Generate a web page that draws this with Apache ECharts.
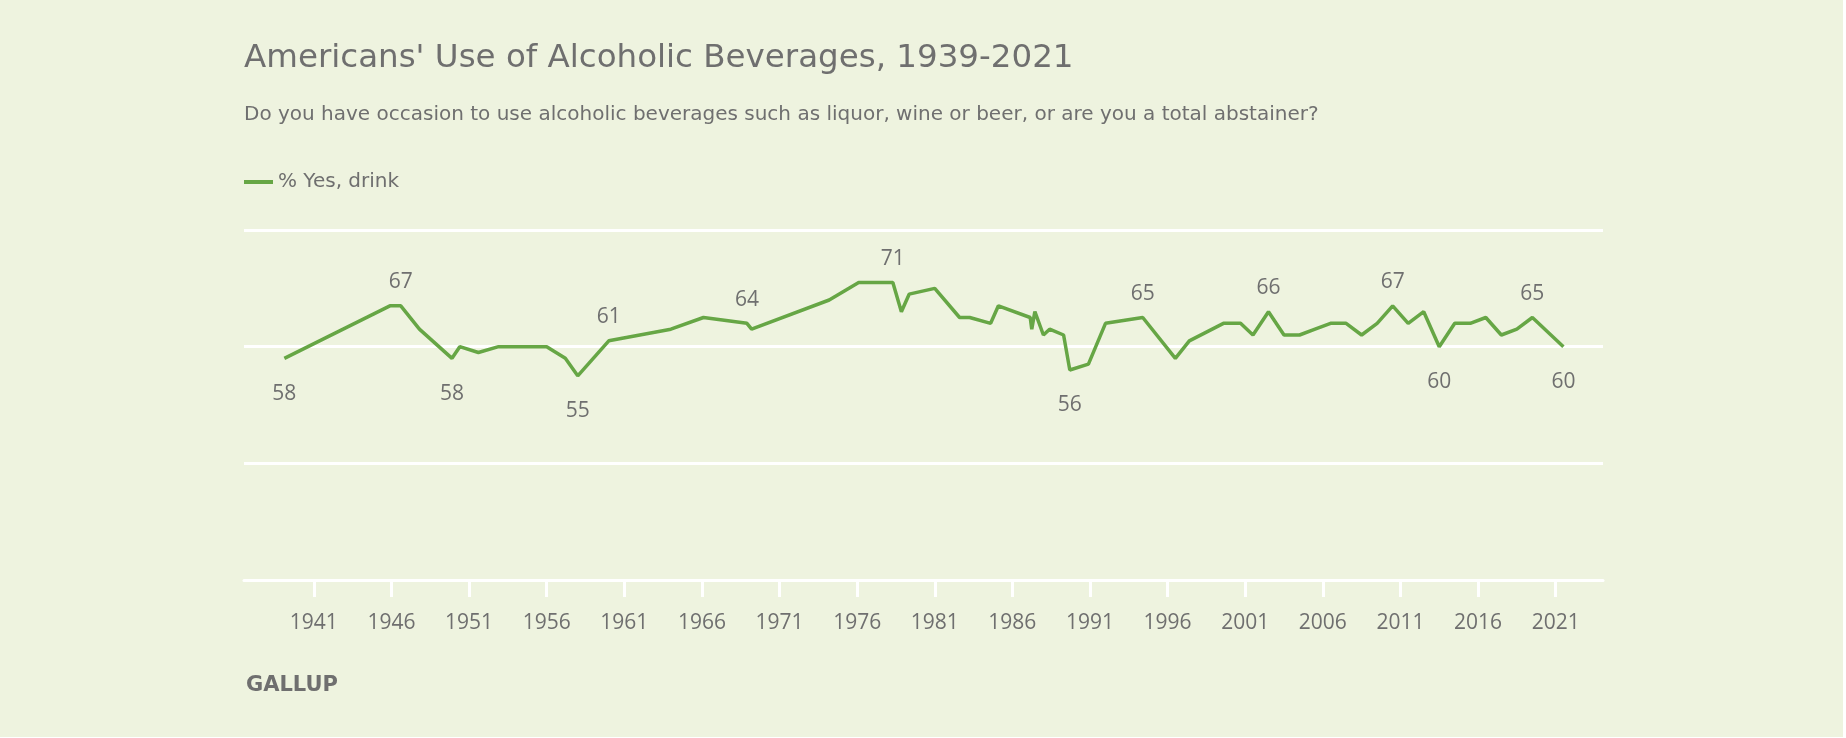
<!DOCTYPE html>
<html>
<head>
<meta charset="utf-8">
<script src="https://cdn.jsdelivr.net/npm/echarts@6/dist/echarts.min.js"></script>
<style>
  html, body { margin: 0; padding: 0; background: #ffffff; }
  #chart { width: 1843px; height: 737px; }
</style>
</head>
<body>
<div id="chart"></div>
<script>
// survey dates (fractional year) and % who drink
const years = [1939.1, 1945.9, 1946.6, 1947.8, 1949.9, 1950.4, 1951.6, 1952.9, 1956.0, 1957.2,
  1958.0, 1960.0, 1964.0, 1966.1, 1968.9, 1969.2, 1974.2, 1976.1, 1978.3, 1978.85,
  1979.35, 1981.0, 1982.6, 1983.25, 1984.6, 1985.1, 1987.15, 1987.25, 1987.45, 1988.0,
  1988.4, 1989.3, 1989.7, 1990.9, 1992.0, 1994.4, 1996.5, 1997.4, 1999.6, 2000.7,
  2001.5, 2002.5, 2003.5, 2004.5, 2005.5, 2006.5, 2007.5, 2008.5, 2009.5, 2010.5,
  2011.5, 2012.5, 2013.5, 2014.5, 2015.5, 2016.5, 2017.5, 2018.5, 2019.5, 2021.5]
const yesDrink = [58, 67, 67, 63, 58, 60, 59, 60, 60, 58,
  55, 61, 63, 65, 64, 63, 68, 71, 71, 66,
  69, 70, 65, 65, 64, 67, 65, 63, 66, 62,
  63, 62, 56, 57, 64, 65, 58, 61, 64, 64,
  62, 66, 62, 62, 63, 64, 64, 62, 64, 67,
  64, 66, 60, 64, 64, 65, 62, 63, 65, 60]
// which points get a value label
const labelsAbove = [1946.6, 1960.0, 1968.9, 1978.3, 1994.4, 2002.5, 2010.5, 2019.5]
const labelsBelow = [1939.1, 1949.9, 1958.0, 1989.7, 2013.5, 2021.5]
const tickYears = [1941, 1946, 1951, 1956, 1961, 1966, 1971, 1976, 1981, 1986,
  1991, 1996, 2001, 2006, 2011, 2016, 2021]

const TEXT_FONT = '"DejaVu Sans", sans-serif'
const NUM_FONT = '"Open Sans", sans-serif'
const GREY = '#6f6f6f'
const GREEN = '#66a645'

const seriesData = years.map((x, i) => {
  let item = { value: [x, yesDrink[i]] }
  if (labelsAbove.includes(x)) {
    item.label = { show: true, position: 'top', distance: 13 }
  } else if (labelsBelow.includes(x)) {
    item.label = { show: true, position: 'bottom', distance: 25 }
  }
  return item
})

let chart = echarts.init(document.getElementById('chart'))
chart.setOption({
  backgroundColor: '#eef3df',
  animation: false,
  graphic: [
    { type: 'text', x: 244, y: 59,
      style: { text: "Americans' Use of Alcoholic Beverages, 1939-2021", font: '32.5px ' + TEXT_FONT, fill: GREY, verticalAlign: 'middle' } },
    { type: 'text', x: 244, y: 115,
      style: { text: 'Do you have occasion to use alcoholic beverages such as liquor, wine or beer, or are you a total abstainer?', font: '20px ' + TEXT_FONT, fill: GREY, verticalAlign: 'middle' } },
    { type: 'text', x: 246, y: 686,
      style: { text: 'GALLUP', font: 'bold 21px ' + TEXT_FONT, fill: GREY, verticalAlign: 'middle' } }
  ],
  legend: {
    left: 239,
    top: 167,
    icon: 'rect',
    itemWidth: 29,
    itemHeight: 4,
    textStyle: { fontFamily: TEXT_FONT, fontSize: 20, color: GREY },
    data: ['% Yes, drink']
  },
  grid: { left: 244, right: 240, top: 230, bottom: 157 },
  xAxis: {
    type: 'value',
    min: 1936.5,
    max: 2024.05,
    splitLine: { show: false },
    axisLine: { show: true, lineStyle: { color: '#ffffff', width: 3 } },
    axisTick: { show: true, length: 17, lineStyle: { color: '#ffffff', width: 3 }, customValues: tickYears },
    axisLabel: {
      customValues: tickYears,
      margin: 33,
      fontFamily: NUM_FONT,
      fontSize: 21,
      color: GREY,
      formatter: (v) => String(v)
    }
  },
  yAxis: {
    type: 'value',
    min: 20,
    max: 80,
    interval: 20,
    axisLine: { show: false },
    axisTick: { show: false },
    axisLabel: { show: false },
    splitLine: { lineStyle: { color: '#ffffff', width: 3 } }
  },
  series: [{
    name: '% Yes, drink',
    type: 'line',
    data: seriesData,
    symbol: 'circle',
    symbolSize: 0,
    showAllSymbol: true,
    lineStyle: { color: GREEN, width: 3.5 },
    itemStyle: { color: GREEN },
    label: { show: false, fontFamily: NUM_FONT, fontSize: 21, color: GREY },
    emphasis: { disabled: true }
  }]
})
</script>
</body>
</html>
